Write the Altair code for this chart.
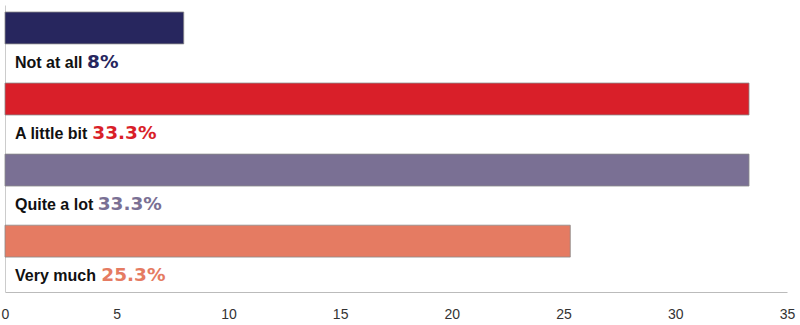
import altair as alt
import pandas as pd

categories = ["Not at all", "A little bit", "Quite a lot", "Very much"]
values = [8, 33.3, 33.3, 25.3]
value_labels = ["8%", "33.3%", "33.3%", "25.3%"]
colors = ["#27265e", "#d91f29", "#7a7094", "#e57b62"]
x_ticks = [0, 5, 10, 15, 20, 25, 30, 35]

df = pd.DataFrame({"category": categories, "value": values, "label": value_labels})

# Helvetica/Liberation Sans Bold advance widths (per 1000 em) for offsetting the value text
W = {"N": 722, "o": 611, "t": 333, " ": 278, "a": 556, "l": 278, "A": 722, "i": 278,
     "b": 611, "Q": 778, "u": 611, "e": 556, "V": 667, "r": 389, "y": 556, "m": 889,
     "c": 556, "h": 611}
LABEL_SIZE = 16


def text_width(s, size):
    return sum(W.get(ch, 556) for ch in s) * size / 1000.0


y_scale = alt.Scale(domain=categories, paddingInner=0.551, paddingOuter=0.295, align=0.167)
y_enc = alt.Y("category:N", sort=categories, scale=y_scale, axis=alt.Axis(
    labels=False, ticks=False, title=None, domain=True, domainColor="#cccccc", grid=False))

bars = alt.Chart(df).mark_bar(stroke="#8a8a8a", strokeWidth=1, strokeOpacity=0.8).encode(
    x=alt.X("value:Q", scale=alt.Scale(domain=[0, 35], nice=False),
            axis=alt.Axis(values=x_ticks, title=None, grid=False, ticks=False,
                          labelFlush=False, labelOverlap=False,
                          labelPadding=15, labelFontSize=14, labelColor="#333333",
                          labelFont="Liberation Sans", domainColor="#bbbbbb")),
    y=y_enc,
    color=alt.Color("category:N", scale=alt.Scale(domain=categories, range=colors), legend=None),
)

layers = [bars]
label_x = 10
for cat, lab, col in zip(categories, value_labels, colors):
    sub = alt.Chart(df).transform_filter(alt.datum.category == cat)
    layers.append(sub.mark_text(
        align="left", baseline="alphabetic", font="Liberation Sans", fontWeight="bold",
        fontSize=LABEL_SIZE, color="#111111", yOffset=40
    ).encode(x=alt.value(label_x), y=alt.Y("category:N", sort=categories, scale=y_scale), text="category:N"))
    layers.append(sub.mark_text(
        align="left", baseline="alphabetic", font="DejaVu Sans", fontWeight="bold",
        fontSize=18.5, color=col, yOffset=40,
        dx=text_width(cat + " ", LABEL_SIZE)
    ).encode(x=alt.value(label_x), y=alt.Y("category:N", sort=categories, scale=y_scale), text="label:N"))

chart = alt.layer(*layers).properties(
    width=782, height=287,
    padding={"left": 1, "top": 5, "right": 5, "bottom": 5},
).configure(background="white").configure_view(stroke=None)

chart.save("out.html", embed_options={"renderer": "svg", "actions": False})
